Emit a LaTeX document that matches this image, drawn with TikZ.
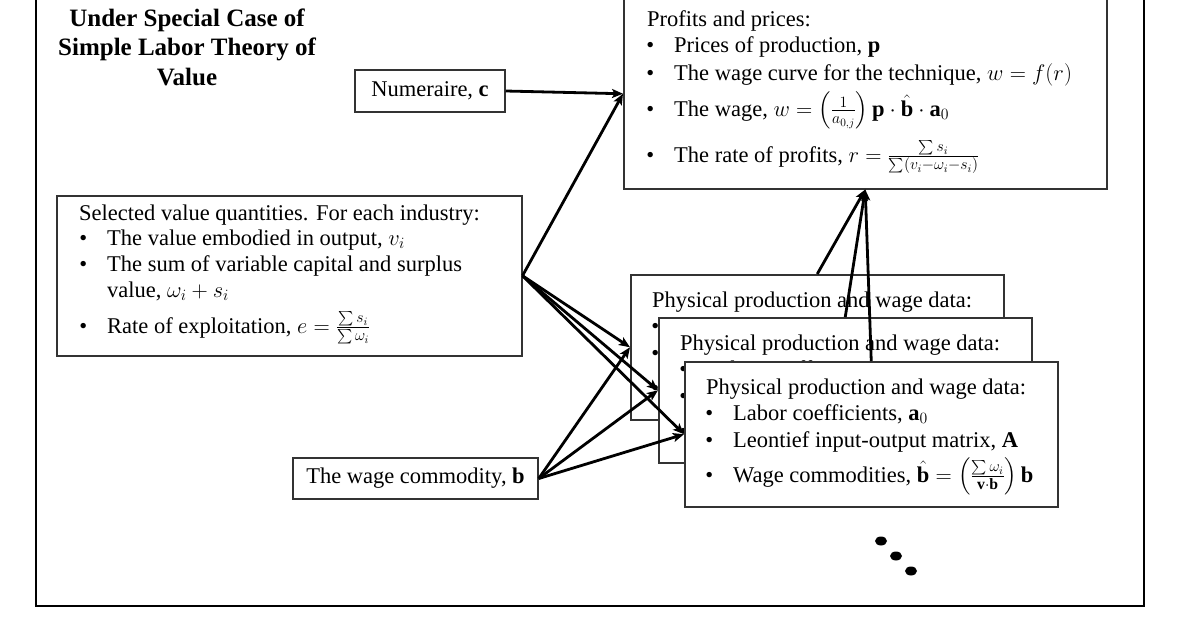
\RequirePackage{fix-cm}
\documentclass[tikz,border=0pt]{standalone}
\usepackage{amsmath}
\usepackage{fontspec}
\setmainfont{Liberation Serif}
\usetikzlibrary{arrows.meta}
\newcommand\bulx{\llap{\textbullet\hspace{20pt}}}
\tikzset{
  box/.style={draw=black!80, line width=1.5pt, fill=white, inner sep=0pt},
  physbox/.style={box, anchor=north west, minimum width=373pt, minimum height=145pt},
  txt/.style={anchor=base west, inner sep=0pt},
  ttl/.style={anchor=base, inner sep=0pt, font=\bfseries\fontsize{25}{30}\selectfont},
  arr/.style={line width=2.8pt, -{Stealth[length=11pt,width=9pt,inset=2.5pt]}},
  frame/.style={line width=1.6pt}
}
\newcommand\physbox[3]{%
  \node[physbox] (#1) at (#2,#3) {};
  \node[txt] (#1-t0) at ([shift={(22,33)}]#1.north west) {Physical production and wage data:};
  \node[txt] (#1-t1) at ([shift={(49,59)}]#1.north west) {\bulx Labor coefficients, $\mathbf{a}_0$};
  \node[txt] (#1-t2) at ([shift={(49,86)}]#1.north west) {\bulx Leontief input-output matrix, $\mathbf{A}$};
  \node[txt] (#1-t3) at ([shift={(49,121)}]#1.north west) {\bulx Wage commodities, $\hat{\mathbf{b}}=\left(\frac{\sum\omega_i}{\mathbf{v}\cdot\mathbf{b}}\right)\mathbf{b}$};
}
\begin{document}
\begin{tikzpicture}[x=1pt, y=-1pt, font=\fontsize{22.5}{27}\selectfont]
\useasboundingbox (0,0) rectangle (1200,630);
\fill[white] (0,0) rectangle (1200,630);
% outer frame
\draw[frame] (36,-2) -- (36,606) -- (1144,606) -- (1144,-2);
% title
\node[ttl] (t1) at (187,26) {Under Special Case of};
\node[ttl] (t2) at (187,55) {Simple Labor Theory of};
\node[ttl] (t3) at (187,85) {Value};
% profits box
\node[box, anchor=north west, minimum width=483pt, minimum height=190pt] (prof) at (623,-2) {};
\node[txt] (p0) at (647,26) {Profits and prices:};
\node[txt] (p1) at (674,52) {\bulx Prices of production, $\mathbf{p}$};
\node[txt] (p2) at (674,80) {\bulx The wage curve for the technique, $w=f(r)$};
\node[txt] (p3) at (674,116) {\bulx The wage, $w=\left(\frac{1}{a_{0,j}}\right)\mathbf{p}\cdot\hat{\mathbf{b}}\cdot\mathbf{a}_0$};
\node[txt] (p4) at (674,162) {\bulx The rate of profits, $r=\frac{\sum s_i}{\sum(v_i-\omega_i-s_i)}$};
% numeraire
\node[box, minimum width=150pt, minimum height=42pt] (num) at (430,91) {Numeraire, $\mathbf{c}$};
% selected value quantities
\node[box, anchor=north west, minimum width=465pt, minimum height=160pt] (sel) at (56,195) {};
\node[txt] (s0) at (79,220) {Selected value quantities. For each industry:};
\node[txt] (s1) at (107,245) {\bulx The value embodied in output, $v_i$};
\node[txt] (s2) at (107,271) {\bulx The sum of variable capital and surplus};
\node[txt] (s3) at (107,297) {value, $\omega_i+s_i$};
\node[txt] (s4) at (107,333) {\bulx Rate of exploitation, $e=\frac{\sum s_i}{\sum\omega_i}$};
% wage commodity
\node[box, minimum width=245pt, minimum height=41pt] (wage) at (415.5,478.5) {The wage commodity, $\mathbf{b}$};
% physical production boxes
\physbox{ph1}{630}{274}
\physbox{ph2}{658}{317}
\physbox{ph3}{684}{361}
% arrows
\draw[arr] (num.east) -- (prof.west);
\draw[arr] (sel.east) -- (prof.west);
\foreach \b in {ph1,ph2,ph3} {
  \draw[arr] (sel.east) -- (\b.west);
  \draw[arr] (wage.east) -- (\b.west);
  \draw[arr] (\b.north) -- (prof.south);
}
% continuation dots
\fill (881,541) ellipse [x radius=6pt, y radius=4.5pt];
\fill (896,556) ellipse [x radius=6pt, y radius=4.5pt];
\fill (911,571) ellipse [x radius=6pt, y radius=4.5pt];
\end{tikzpicture}
\end{document}
